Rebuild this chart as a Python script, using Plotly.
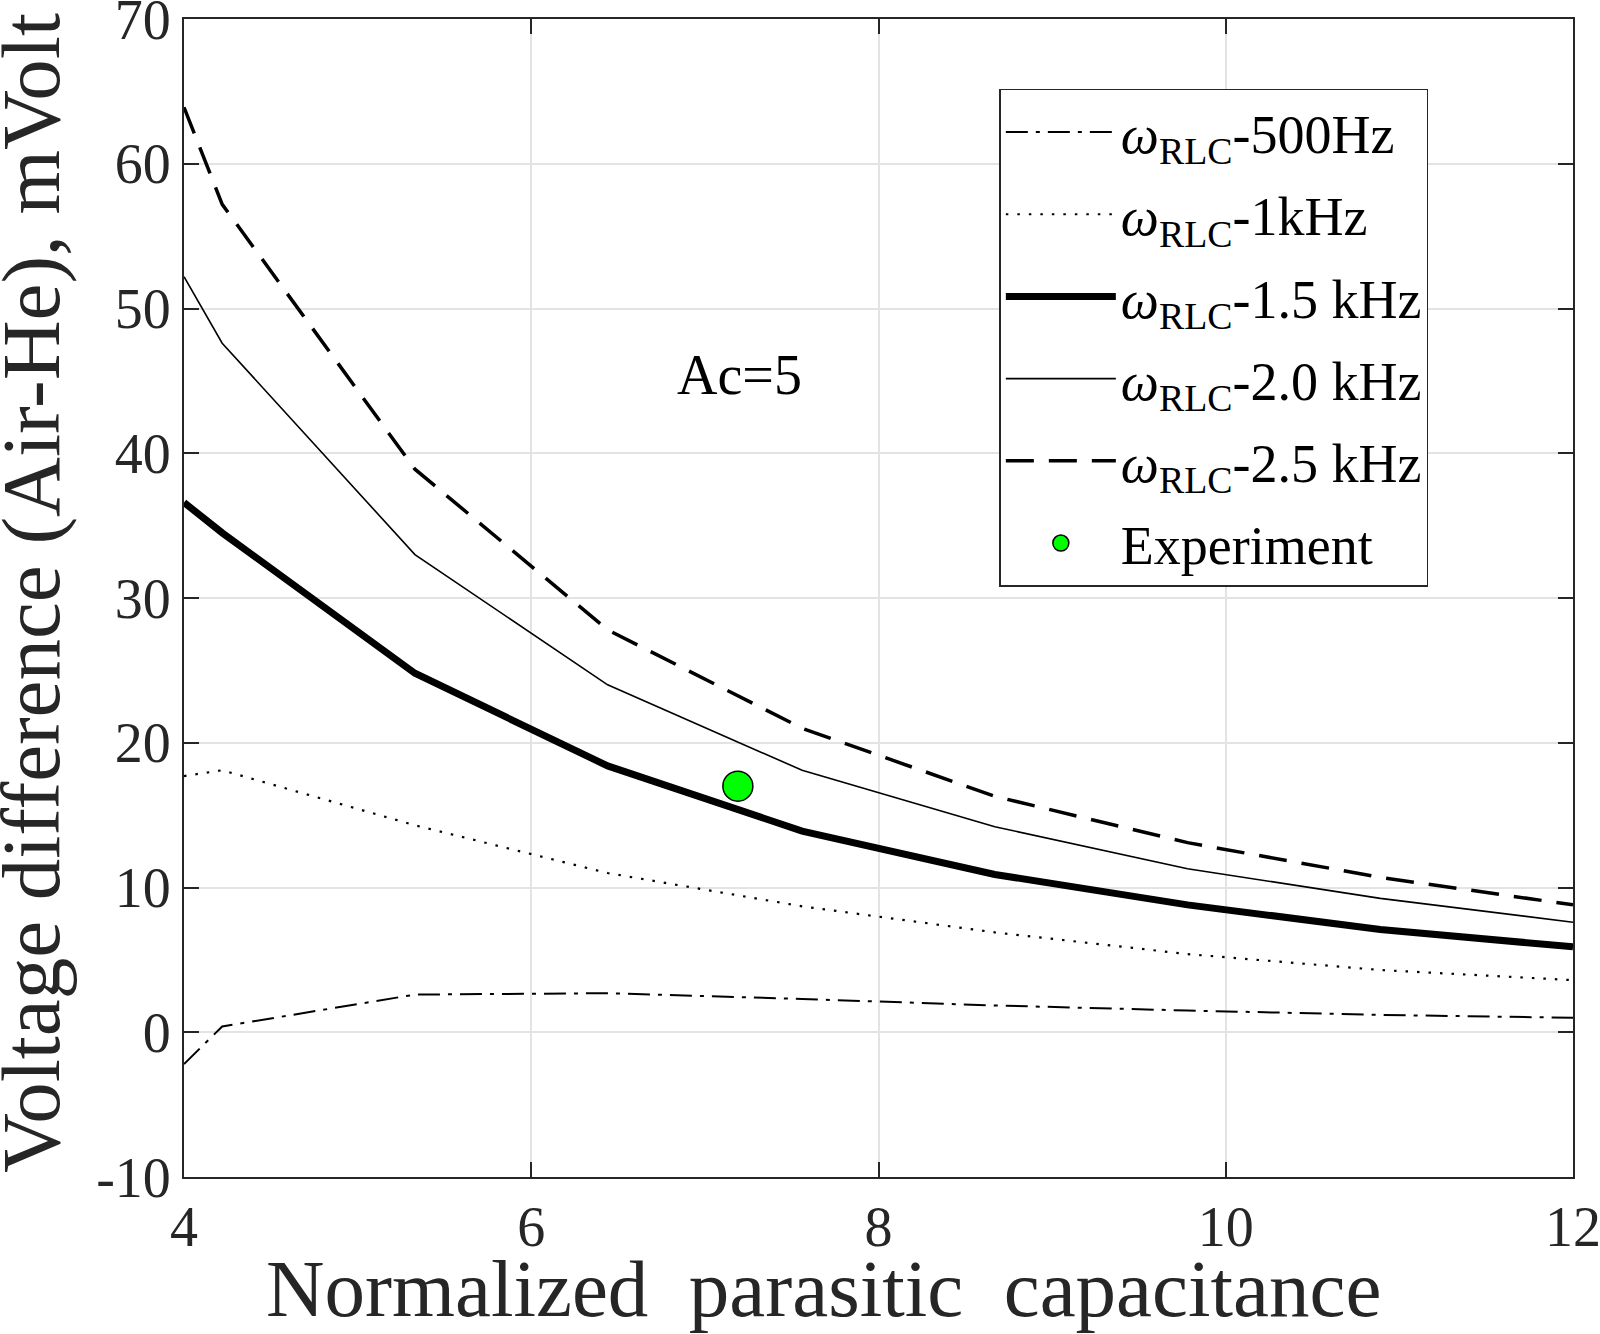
import plotly.graph_objects as go

x_vals = [4.0, 4.22, 5.33, 6.44, 7.56, 8.67, 9.78, 10.89, 12.0]
v_500hz = [-2.2, 0.4, 2.6, 2.7, 2.3, 1.85, 1.5, 1.2, 1.0]
v_1khz = [17.7, 18.1, 14.3, 11.0, 8.7, 6.9, 5.4, 4.3, 3.6]
v_15khz = [36.6, 34.5, 24.8, 18.4, 13.9, 10.9, 8.8, 7.1, 5.9]
v_20khz = [52.2, 47.6, 33.0, 24.0, 18.1, 14.2, 11.3, 9.25, 7.6]
v_25khz = [63.9, 57.2, 38.9, 27.8, 21.0, 16.3, 13.1, 10.7, 8.8]
exp_x = [7.19]
exp_y = [17.0]

x_ticks = [4, 6, 8, 10, 12]
y_ticks = [-10, 0, 10, 20, 30, 40, 50, 60, 70]
y_ticklabels = ["-10", "0", "10", "20", "30", "40", "50", "60", "70"]

names = ["<i>ω</i><sub>RLC</sub>-500Hz", "<i>ω</i><sub>RLC</sub>-1kHz",
         "<i>ω</i><sub>RLC</sub>-1.5 kHz", "<i>ω</i><sub>RLC</sub>-2.0 kHz",
         "<i>ω</i><sub>RLC</sub>-2.5 kHz"]
series = [v_500hz, v_1khz, v_15khz, v_20khz, v_25khz]
styles = [dict(width=2, dash="22px,8px,4px,8px"),
          dict(width=2.2, dash="2.5px,9px"),
          dict(width=7, dash="solid"),
          dict(width=1.6, dash="solid"),
          dict(width=3.5, dash="28px,15px")]

FONT = "Liberation Serif"
TXT = "#262626"

fig = go.Figure()
for i, (nm, ys, st) in enumerate(zip(names, series, styles)):
    fig.add_trace(go.Scatter(x=x_vals, y=ys, mode="lines", name=nm,
                             legendgroup=f"g{i}",
                             line=dict(color="black", **st)))
fig.add_trace(go.Scatter(x=exp_x, y=exp_y, mode="markers", name="Experiment",
                         legendgroup="g5",
                         marker=dict(color="#00ff00", size=30,
                                     line=dict(color="black", width=1.5))))

axis_common = dict(showline=True, linecolor=TXT, linewidth=2, mirror="ticks",
                   ticks="inside", ticklen=15, tickwidth=2, tickcolor=TXT,
                   showgrid=True, gridcolor="#e3e3e3", gridwidth=1.5,
                   zeroline=False, ticklabeloverflow="allow", automargin=False,
                   tickfont=dict(family=FONT, size=56, color=TXT))

pl, pr, pt, pb = 184, 1573, 19, 1177
def px2paper(xp, yp):
    return (xp - pl) / (pr - pl), (pb - yp) / (pb - pt)

xt_x, xt_y = px2paper(823, 1289)
yt_x, yt_y = px2paper(31, 593)

fig.update_layout(
    width=1600, height=1334,
    margin=dict(l=pl, r=1600 - pr, t=pt, b=1334 - pb, autoexpand=False),
    paper_bgcolor="white", plot_bgcolor="white",
    xaxis=dict(range=[4, 12], tickvals=x_ticks, **axis_common),
    yaxis=dict(range=[-10, 70], tickvals=y_ticks, ticktext=y_ticklabels,
               **axis_common),
    legend=dict(x=0.587, y=0.9396, xanchor="left", yanchor="top",
                bgcolor="white", bordercolor=TXT, borderwidth=1.5,
                font=dict(family=FONT, size=54, color="black"),
                itemwidth=110, tracegroupgap=9),
    showlegend=True,
    annotations=[
        dict(text="Ac=5", x=7.2, y=45.4, xref="x", yref="y", showarrow=False,
             xanchor="center", yanchor="middle",
             font=dict(family=FONT, size=56, color="black")),
        dict(text="Normalized&nbsp; parasitic&nbsp; capacitance", x=xt_x, y=xt_y,
             xref="paper", yref="paper", showarrow=False,
             xanchor="center", yanchor="middle",
             font=dict(family=FONT, size=81, color=TXT)),
        dict(text="Voltage difference (Air-He), mVolt", x=yt_x, y=yt_y,
             xref="paper", yref="paper", showarrow=False, textangle=-90,
             xanchor="center", yanchor="middle",
             font=dict(family=FONT, size=83, color=TXT)),
    ],
)

fig.write_html("out.html")
